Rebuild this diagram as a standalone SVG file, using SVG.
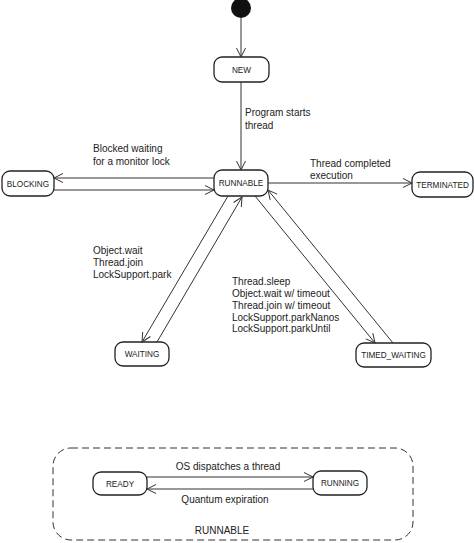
<svg xmlns="http://www.w3.org/2000/svg" width="474" height="543" viewBox="0 0 474 543">
<defs>
<style>
.node rect{fill:#fff;stroke:#222;stroke-width:1.3}
.nt{font-family:"Liberation Sans",Arial,sans-serif;font-size:8.2px;fill:#222;text-anchor:middle}
.lb{font-family:"Liberation Sans",Arial,sans-serif;font-size:10px;fill:#222}
.edge{stroke:#333;stroke-width:1;fill:none;marker-end:url(#arr)}
</style>
<marker id="arr" markerUnits="userSpaceOnUse" markerWidth="12" markerHeight="12" viewBox="-10 -6 12 12" refX="0" refY="0" orient="auto">
<path d="M-9,-4.5 L0,0 L-9,4.5" fill="none" stroke="#333" stroke-width="1"/>
</marker>
</defs>
<rect width="474" height="543" fill="#fff"/>
<g id="start"><circle cx="241" cy="8" r="10" fill="#111"/></g>
<g id="new" class="node"><rect x="214" y="57" width="55" height="25" rx="8"/><text class="nt" x="241.5" y="72.5">NEW</text></g>
<g id="runnable" class="node"><rect x="214" y="170" width="54" height="26" rx="8"/><text class="nt" x="241" y="186">RUNNABLE</text></g>
<g id="blocking" class="node"><rect x="2" y="171" width="52" height="25" rx="8"/><text class="nt" x="28" y="186.5">BLOCKING</text></g>
<g id="terminated" class="node"><rect x="412" y="172" width="61" height="25" rx="8"/><text class="nt" x="442.5" y="187.5">TERMINATED</text></g>
<g id="waiting" class="node"><rect x="115" y="342" width="54" height="24" rx="8"/><text class="nt" x="142" y="357">WAITING</text></g>
<g id="timed_waiting" class="node"><rect x="356" y="343" width="75" height="24" rx="8"/><text class="nt" x="393.5" y="358">TIMED_WAITING</text></g>
<g id="composite">
<rect x="53" y="448" width="360" height="92" rx="18" fill="none" stroke="#333" stroke-width="1" stroke-dasharray="7,4"/>
<text class="lb" x="222" y="534" text-anchor="middle">RUNNABLE</text>
</g>
<g id="ready" class="node"><rect x="93" y="472" width="54" height="23" rx="8"/><text class="nt" x="120" y="486.5">READY</text></g>
<g id="running" class="node"><rect x="313" y="471" width="54" height="24" rx="8"/><text class="nt" x="340" y="486">RUNNING</text></g>
<g id="connectors">
<line class="edge" x1="241" y1="18" x2="241" y2="57"/>
<line class="edge" x1="241" y1="82" x2="241" y2="170"/>
<line class="edge" x1="214" y1="178" x2="54" y2="178"/>
<line class="edge" x1="54" y1="190" x2="214" y2="190"/>
<line class="edge" x1="268" y1="183" x2="412" y2="183"/>
<line class="edge" x1="228" y1="196" x2="142" y2="342"/>
<line class="edge" x1="157" y1="342" x2="242" y2="197"/>
<line class="edge" x1="255" y1="196" x2="375" y2="343"/>
<line class="edge" x1="393" y1="343" x2="268" y2="190"/>
<line class="edge" x1="147" y1="477" x2="313" y2="477"/>
<line class="edge" x1="313" y1="489" x2="147" y2="489"/>
<text class="lb" x="245" y="116">Program starts</text>
<text class="lb" x="245" y="129">thread</text>
<text class="lb" x="93" y="152">Blocked waiting</text>
<text class="lb" x="93" y="165">for a monitor lock</text>
<text class="lb" x="310" y="167">Thread completed</text>
<text class="lb" x="310" y="179">execution</text>
<text class="lb" x="93" y="254">Object.wait</text>
<text class="lb" x="93" y="266">Thread.join</text>
<text class="lb" x="93" y="278">LockSupport.park</text>
<text class="lb" x="232" y="285">Thread.sleep</text>
<text class="lb" x="232" y="297">Object.wait w/ timeout</text>
<text class="lb" x="232" y="309">Thread.join w/ timeout</text>
<text class="lb" x="232" y="321">LockSupport.parkNanos</text>
<text class="lb" x="232" y="332">LockSupport.parkUntil</text>
<text class="lb" x="228" y="470" text-anchor="middle">OS dispatches a thread</text>
<text class="lb" x="225" y="503" text-anchor="middle">Quantum expiration</text>
</g>
</svg>
